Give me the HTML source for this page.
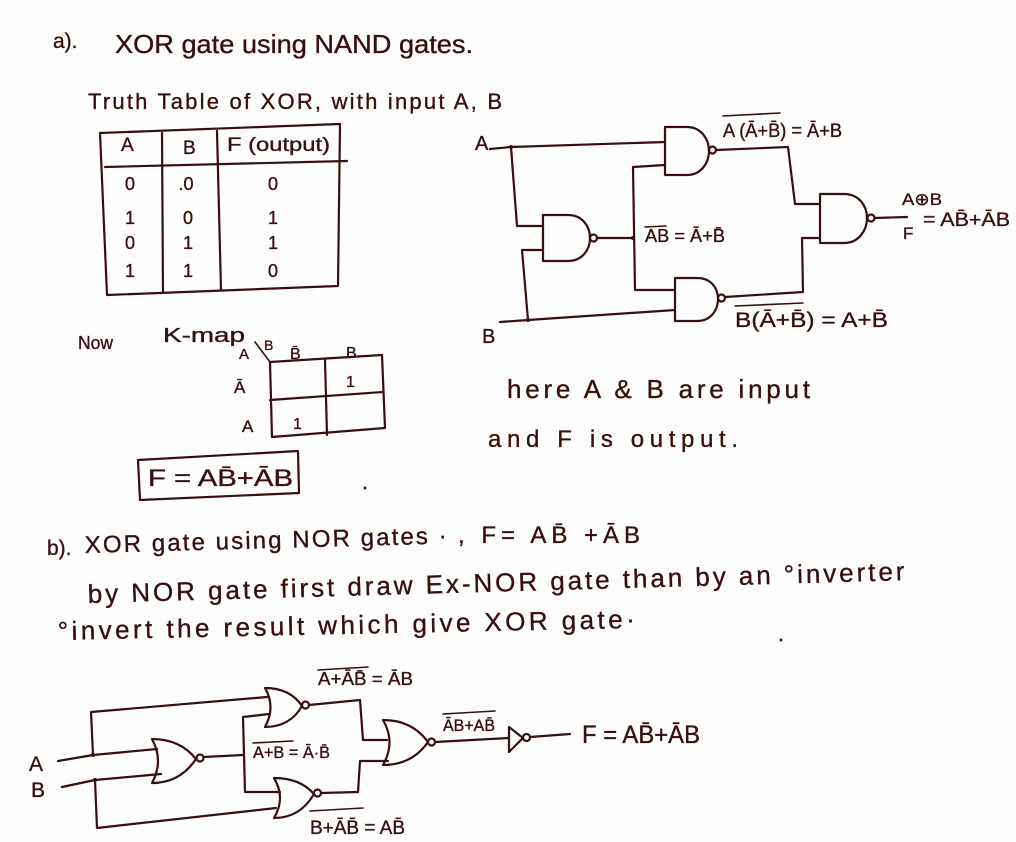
<!DOCTYPE html>
<html>
<head>
<meta charset="utf-8">
<style>
html,body{margin:0;padding:0;background:#fdfdfd;}
svg{display:block;}
text{font-family:"Liberation Sans","DejaVu Sans",sans-serif;fill:#3a0e0e;stroke:#3a0e0e;stroke-width:0.35;}
.s{fill:none;stroke:#3a0e0e;stroke-width:2.2;stroke-linecap:round;stroke-linejoin:round;}
.t{fill:none;stroke:#3a0e0e;stroke-width:1.6;stroke-linecap:round;}
</style>
</head>
<body>
<svg width="1016" height="842" viewBox="0 0 1016 842" xmlns="http://www.w3.org/2000/svg">
<rect width="1016" height="842" fill="#fdfdfd"/>

<!-- Title -->
<text x="53" y="48" font-size="21">a).</text>
<text x="115" y="53" font-size="26" textLength="358" lengthAdjust="spacingAndGlyphs">XOR gate using NAND gates.</text>
<text x="88" y="109" font-size="22" textLength="414" lengthAdjust="spacing">Truth Table of XOR, with input A, B</text>

<!-- Truth table -->
<path class="s" d="M100,133 L340,124 L338,286 L107,295 Z"/>
<path class="s" d="M105,167 L347,161"/>
<path class="s" d="M162,133 L163,293"/>
<path class="s" d="M217,131 L221,290"/>
<text x="121" y="151" font-size="19">A</text>
<text x="183" y="154" font-size="19">B</text>
<text x="227" y="151" font-size="19" textLength="103" lengthAdjust="spacingAndGlyphs">F (output)</text>
<g font-size="18" text-anchor="middle">
<text x="130" y="190">0</text><text x="186" y="190">.0</text><text x="273" y="190">0</text>
<text x="130" y="224">1</text><text x="188" y="224">0</text><text x="273" y="224">1</text>
<text x="130" y="249">0</text><text x="188" y="249">1</text><text x="273" y="249">1</text>
<text x="130" y="277">1</text><text x="188" y="277">1</text><text x="273" y="277">0</text>
</g>

<!-- K-map -->
<text x="78" y="349" font-size="18" textLength="35" lengthAdjust="spacingAndGlyphs">Now</text>
<text x="163" y="342" font-size="20" textLength="82" lengthAdjust="spacingAndGlyphs">K-map</text>
<text x="239" y="359" font-size="15">A</text>
<text x="264" y="350" font-size="14">B</text>
<path class="t" d="M255,342 L270,362"/>
<text x="290" y="359" font-size="16">B̄</text>
<text x="346" y="358" font-size="16">B</text>
<path class="s" d="M270,362 L382,355 L385,428 L272,437 Z"/>
<path class="s" d="M325,360 L327,435"/>
<path class="s" d="M270,400 L383,392"/>
<text x="234" y="393" font-size="17">Ā</text>
<text x="242" y="432" font-size="17">A</text>
<text x="346" y="387" font-size="16">1</text>
<text x="293" y="429" font-size="16">1</text>
<path class="s" d="M138,460 L298,451 L299,493 L140,500 Z"/>
<text x="148" y="486" font-size="24" textLength="145" lengthAdjust="spacingAndGlyphs">F = AB̄+ĀB</text>
<circle cx="365" cy="488" r="1.5" fill="#3a0e0e"/>

<!-- right text -->
<text x="507" y="398" font-size="26" textLength="303" lengthAdjust="spacing">here A &amp; B are input</text>
<text x="488" y="447" font-size="24" textLength="250" lengthAdjust="spacing">and F is output.</text>

<!-- NAND circuit -->
<text x="475" y="150" font-size="20">A</text>
<text x="482" y="343" font-size="20">B</text>
<path class="s" d="M490,149 L511,147 L665,142"/>
<path class="s" d="M511,147 L517,226 L543,226"/>
<path class="s" d="M500,322 L528,320 L675,310"/>
<path class="s" d="M528,320 L522,250 L543,250"/>
<path class="s" d="M597,238 L633,238"/>
<path class="s" d="M665,165 L633,167 L635,290 L675,290"/>
<path class="s" d="M716,150 L788,147 L795,204 L820,204"/>
<path class="s" d="M725,297 L803,292 L802,238 L820,238"/>
<path class="s" d="M875,218 L907,217"/>
<circle cx="511" cy="147" r="2" fill="#3a0e0e"/>
<circle cx="528" cy="320" r="2" fill="#3a0e0e"/>
<circle cx="633" cy="238" r="2" fill="#3a0e0e"/>
<!-- gate1 -->
<path class="s" d="M665,127 H687 C701,127 709,139 709,151 C709,163 701,175 687,175 H665 Z"/>
<circle class="s" cx="712.5" cy="150" r="3.5"/>
<!-- gate2 -->
<path class="s" d="M543,215 H568 C582,215 590,226 590,238 C590,250 582,261 568,261 H543 Z"/>
<circle class="s" cx="593.5" cy="238" r="3.5"/>
<!-- gate3 -->
<path class="s" d="M675,278 H697 C711,278 718,288 718,299 C718,310 711,321 697,321 H675 Z"/>
<circle class="s" cx="721.5" cy="298" r="3.5"/>
<!-- gate4 -->
<path class="s" d="M820,194 H844 C859,194 867,206 867,218 C867,230 859,243 844,243 H820 Z"/>
<circle class="s" cx="871" cy="218" r="3.5"/>
<!-- labels -->
<text x="723" y="137" font-size="19" textLength="119" lengthAdjust="spacingAndGlyphs">A (Ā+B̄) = Ā+B</text>
<path class="t" d="M723,116 L780,113"/>
<text x="645" y="242" font-size="18" textLength="80" lengthAdjust="spacingAndGlyphs">AB = Ā+B̄</text>
<path class="t" d="M645,227 L666,226"/>
<text x="902" y="205" font-size="17" textLength="40" lengthAdjust="spacingAndGlyphs">A⊕B</text>
<text x="923" y="226" font-size="19" textLength="87" lengthAdjust="spacingAndGlyphs">= AB̄+ĀB</text>
<text x="903" y="239" font-size="17">F</text>
<text x="735" y="327" font-size="21" textLength="153" lengthAdjust="spacingAndGlyphs">B(Ā+B̄) = A+B̄</text>
<path class="t" d="M735,306 L803,303"/>

<!-- b) text -->
<text x="47" y="555" font-size="21">b).</text>
<g transform="rotate(-1.5 85 553)">
<text x="85" y="553" font-size="24" textLength="362" lengthAdjust="spacing">XOR gate using NOR gates ·</text>
</g>
<text x="458" y="543" font-size="24" textLength="182" lengthAdjust="spacing">, F= AB̄ +ĀB</text>
<g transform="rotate(-1.6 88 603)">
<text x="88" y="603" font-size="26" textLength="817" lengthAdjust="spacing">by NOR gate first draw Ex-NOR gate  than by an °inverter</text>
</g>
<g transform="rotate(-1.2 58 640)">
<text x="58" y="640" font-size="26" textLength="577" lengthAdjust="spacing">°invert the result which give XOR gate·</text>
</g>
<circle cx="781" cy="640" r="1.5" fill="#3a0e0e"/>

<!-- NOR circuit -->
<text x="29" y="771" font-size="21">A</text>
<text x="31" y="797" font-size="21">B</text>
<path class="s" d="M58,761 L93,755 L157,749"/>
<path class="s" d="M93,755 L91,712 L267,697"/>
<path class="s" d="M62,787 L95,780 L161,774"/>
<path class="s" d="M95,780 L97,828 L276,808"/>
<path class="s" d="M204,757 L243,755"/>
<path class="s" d="M269,714 L243,717 L245,792 L280,792"/>
<path class="s" d="M309,705 L360,700 L363,740 L387,740"/>
<path class="s" d="M321,793 L358,792 L360,761 L388,761"/>
<path class="s" d="M435,742 L509,738"/>
<path class="s" d="M530,737 L570,734"/>
<circle cx="93" cy="755" r="2" fill="#3a0e0e"/>
<circle cx="95" cy="780" r="2" fill="#3a0e0e"/>
<!-- NOR1 -->
<path class="s" d="M152,739 Q180,739 196,759 Q180,783 152,783 Q164,761 152,739 Z"/>
<circle class="s" cx="200" cy="758" r="3.5"/>
<!-- NOR2 -->
<path class="s" d="M265,688 Q290,688 302,706 Q290,727 265,727 Q276,707 265,688 Z"/>
<circle class="s" cx="305.5" cy="705" r="3.5"/>
<!-- NOR3 -->
<path class="s" d="M274,778 Q300,778 314,794 Q300,818 274,818 Q286,798 274,778 Z"/>
<circle class="s" cx="317.5" cy="793" r="3.5"/>
<!-- NOR4 -->
<path class="s" d="M383,720 Q412,720 428,742 Q412,765 383,765 Q396,742 383,720 Z"/>
<circle class="s" cx="431.5" cy="742" r="3.5"/>
<!-- inverter -->
<path class="s" d="M509,727 L509,752 L523,738 Z"/>
<circle class="s" cx="526.5" cy="737.5" r="3.5"/>
<!-- NOR labels -->
<text x="318" y="685" font-size="18" textLength="95" lengthAdjust="spacingAndGlyphs">A+ĀB̄ = ĀB</text>
<path class="t" d="M318,670 L368,667"/>
<text x="253" y="758" font-size="17" textLength="77" lengthAdjust="spacingAndGlyphs">A+B = Ā·B̄</text>
<path class="t" d="M253,743 L293,741"/>
<text x="443" y="731" font-size="17" textLength="52" lengthAdjust="spacingAndGlyphs">ĀB+AB̄</text>
<path class="t" d="M443,714 L495,711"/>
<text x="310" y="834" font-size="19" textLength="95" lengthAdjust="spacingAndGlyphs">B+ĀB̄ = AB̄</text>
<path class="t" d="M310,811 L363,808"/>
<text x="582" y="743" font-size="25" textLength="118" lengthAdjust="spacingAndGlyphs">F = AB̄+ĀB</text>
</svg>
</body>
</html>
